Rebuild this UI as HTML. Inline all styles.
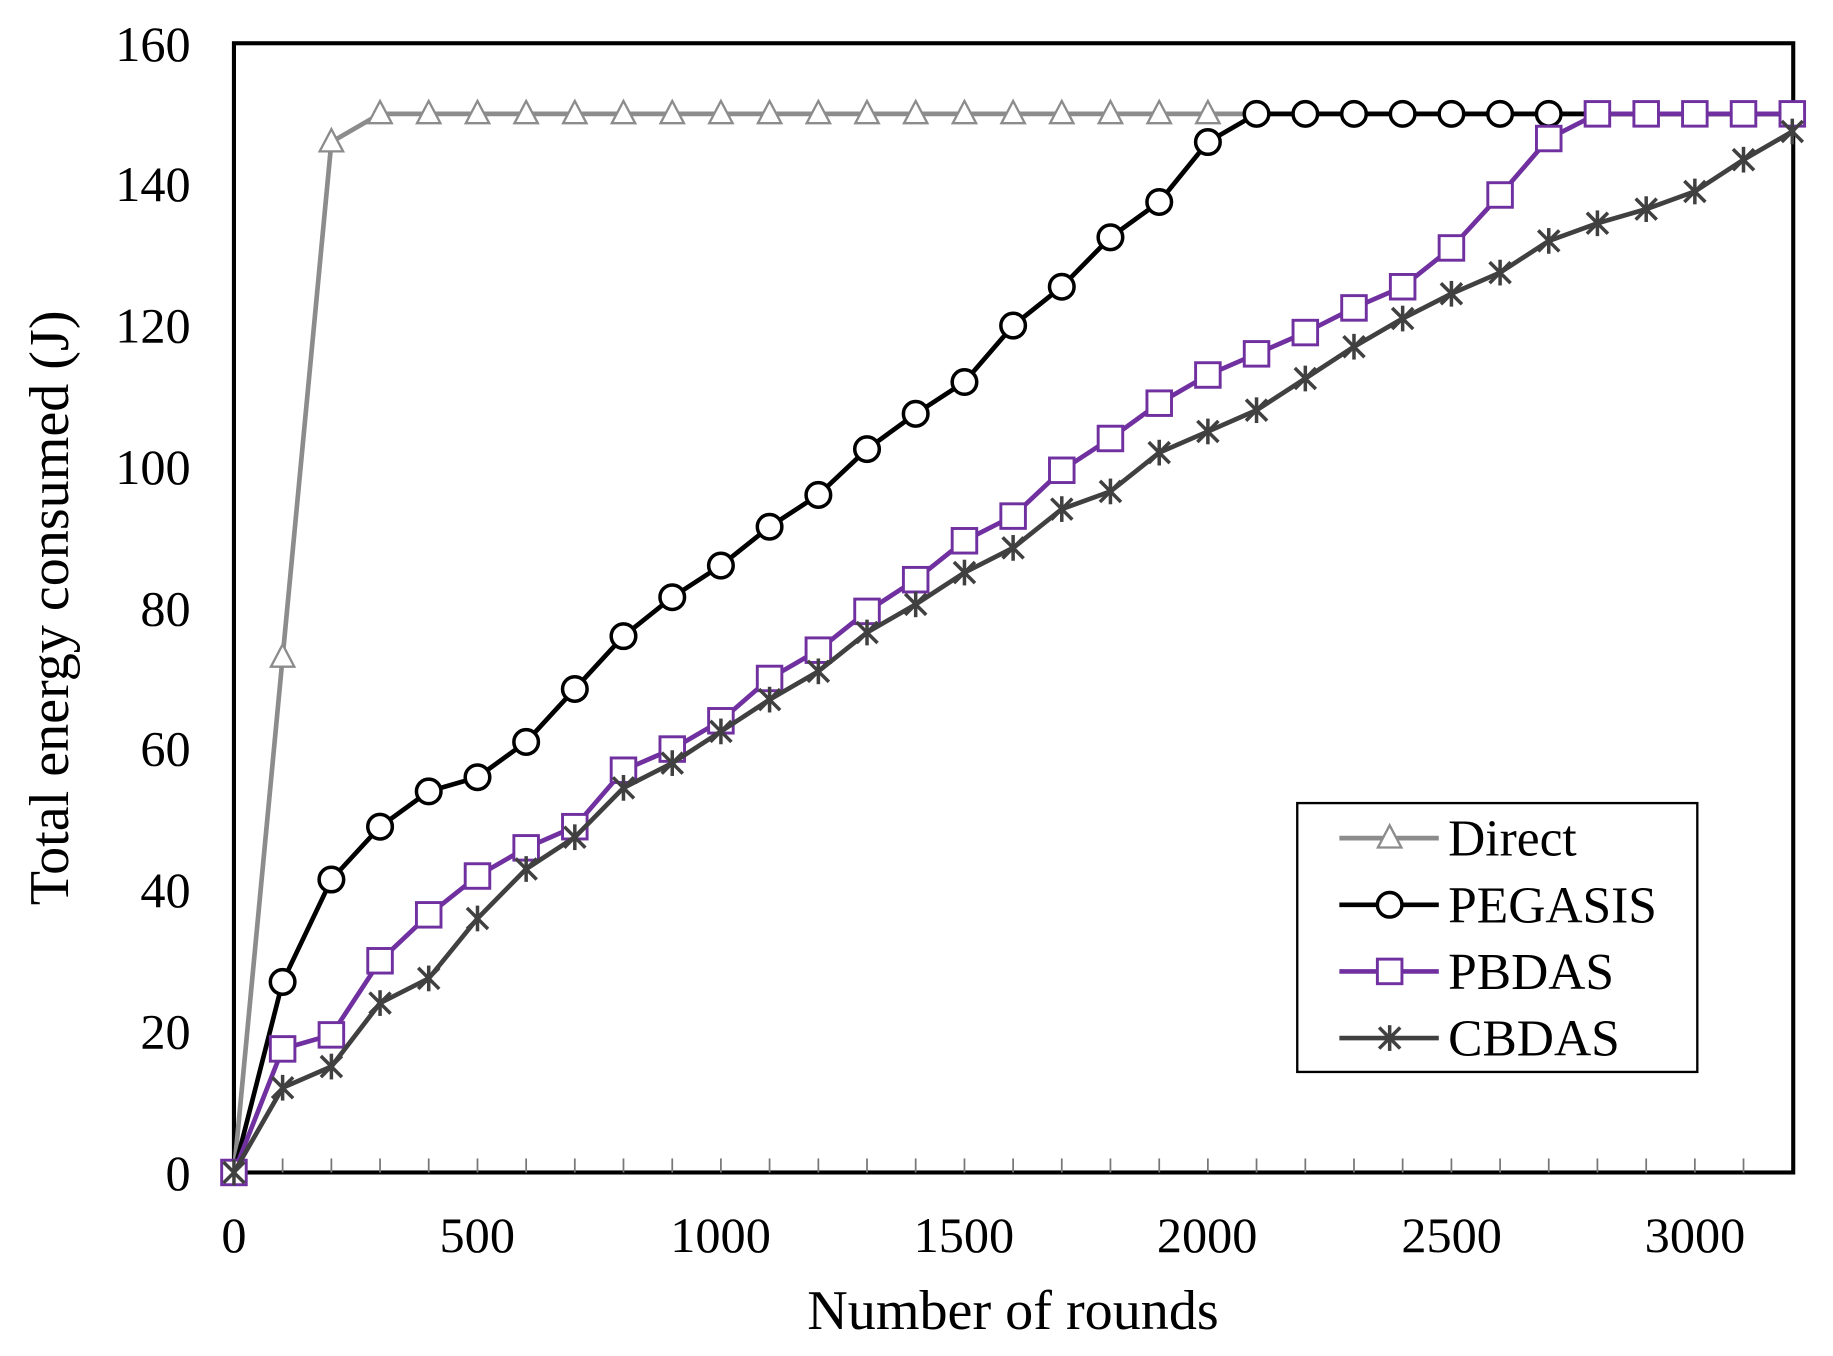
<!DOCTYPE html>
<html><head><meta charset="utf-8"><style>html,body{margin:0;padding:0;background:#fff}svg{display:block}</style></head>
<body>
<svg width="1833" height="1356" viewBox="0 0 1567 1160" preserveAspectRatio="none" xmlns="http://www.w3.org/2000/svg" font-family="Liberation Serif, serif">
<defs>
<g id="tri"><polygon points="0,-11 10,8 -10,8" fill="#fff" stroke="#8c8c8c" stroke-width="2"/></g>
<g id="cir"><circle r="10.5" fill="#fff" stroke="#000" stroke-width="3"/></g>
<g id="sq"><rect x="-10.5" y="-10.5" width="21" height="21" fill="#fff" stroke="#7030a0" stroke-width="2.5"/></g>
<g id="ast" stroke="#404040" stroke-width="3"><line x1="-9" y1="-9" x2="9" y2="9"/><line x1="-9" y1="9" x2="9" y2="-9"/><line x1="0" y1="-11" x2="0" y2="11"/></g>
</defs>
<rect width="1567" height="1160" fill="#fff"/>
<rect x="200" y="37" width="1333" height="966" fill="none" stroke="#000" stroke-width="3.5"/>
<g stroke="#777" stroke-width="1.5">
<line x1="241.6" y1="1003" x2="241.6" y2="991"/><line x1="283.3" y1="1003" x2="283.3" y2="991"/><line x1="324.9" y1="1003" x2="324.9" y2="991"/><line x1="366.5" y1="1003" x2="366.5" y2="991"/><line x1="408.2" y1="1003" x2="408.2" y2="991"/><line x1="449.8" y1="1003" x2="449.8" y2="991"/><line x1="491.4" y1="1003" x2="491.4" y2="991"/><line x1="533" y1="1003" x2="533" y2="991"/><line x1="574.7" y1="1003" x2="574.7" y2="991"/><line x1="616.3" y1="1003" x2="616.3" y2="991"/><line x1="657.9" y1="1003" x2="657.9" y2="991"/><line x1="699.6" y1="1003" x2="699.6" y2="991"/><line x1="741.2" y1="1003" x2="741.2" y2="991"/><line x1="782.8" y1="1003" x2="782.8" y2="991"/><line x1="824.5" y1="1003" x2="824.5" y2="991"/><line x1="866.1" y1="1003" x2="866.1" y2="991"/><line x1="907.7" y1="1003" x2="907.7" y2="991"/><line x1="949.3" y1="1003" x2="949.3" y2="991"/><line x1="991" y1="1003" x2="991" y2="991"/><line x1="1032.6" y1="1003" x2="1032.6" y2="991"/><line x1="1074.2" y1="1003" x2="1074.2" y2="991"/><line x1="1115.9" y1="1003" x2="1115.9" y2="991"/><line x1="1157.5" y1="1003" x2="1157.5" y2="991"/><line x1="1199.1" y1="1003" x2="1199.1" y2="991"/><line x1="1240.8" y1="1003" x2="1240.8" y2="991"/><line x1="1282.4" y1="1003" x2="1282.4" y2="991"/><line x1="1324" y1="1003" x2="1324" y2="991"/><line x1="1365.6" y1="1003" x2="1365.6" y2="991"/><line x1="1407.3" y1="1003" x2="1407.3" y2="991"/><line x1="1448.9" y1="1003" x2="1448.9" y2="991"/><line x1="1490.5" y1="1003" x2="1490.5" y2="991"/>
</g>
<g font-size="43" text-anchor="end" fill="#000">
<text x="163" y="1018">0</text><text x="163" y="897">20</text><text x="163" y="776">40</text><text x="163" y="655">60</text><text x="163" y="535">80</text><text x="163" y="414">100</text><text x="163" y="293">120</text><text x="163" y="172">140</text><text x="163" y="52">160</text>
</g>
<g font-size="43" text-anchor="middle" fill="#000">
<text x="200" y="1071">0</text><text x="408" y="1071">500</text><text x="616" y="1071">1000</text><text x="824" y="1071">1500</text><text x="1032" y="1071">2000</text><text x="1241" y="1071">2500</text><text x="1449" y="1071">3000</text>
</g>
<text x="866" y="1137" font-size="48" text-anchor="middle">Number of rounds</text>
<text transform="translate(58,520) rotate(-90)" font-size="48" text-anchor="middle">Total energy consumed (J)</text>

<polyline fill="none" stroke="#8c8c8c" stroke-width="4" points="200,1003 241.6,562.3 283.3,121.5 324.9,97.4 1532.2,97.4"/>
<g>
<use href="#tri" x="241.6" y="562.3"/><use href="#tri" x="283.3" y="121.5"/><use href="#tri" x="324.9" y="97.4"/><use href="#tri" x="366.5" y="97.4"/><use href="#tri" x="408.2" y="97.4"/><use href="#tri" x="449.8" y="97.4"/><use href="#tri" x="491.4" y="97.4"/><use href="#tri" x="533" y="97.4"/><use href="#tri" x="574.7" y="97.4"/><use href="#tri" x="616.3" y="97.4"/><use href="#tri" x="657.9" y="97.4"/><use href="#tri" x="699.6" y="97.4"/><use href="#tri" x="741.2" y="97.4"/><use href="#tri" x="782.8" y="97.4"/><use href="#tri" x="824.5" y="97.4"/><use href="#tri" x="866.1" y="97.4"/><use href="#tri" x="907.7" y="97.4"/><use href="#tri" x="949.3" y="97.4"/><use href="#tri" x="991" y="97.4"/><use href="#tri" x="1032.6" y="97.4"/>
</g>

<polyline fill="none" stroke="#000" stroke-width="4" stroke-linejoin="round" points="200,1003 241.6,840 283.3,752.4 324.9,707.2 366.5,677 408.2,664.9 449.8,634.7 491.4,589.4 533,544.2 574.7,510.9 616.3,483.8 657.9,450.6 699.6,423.4 741.2,384.2 782.8,354 824.5,326.8 866.1,278.5 907.7,245.3 949.3,203 991,172.8 1032.6,121.5 1074.2,97.4 1532.2,97.4"/>
<g>
<use href="#cir" x="241.6" y="840"/><use href="#cir" x="283.3" y="752.4"/><use href="#cir" x="324.9" y="707.2"/><use href="#cir" x="366.5" y="677"/><use href="#cir" x="408.2" y="664.9"/><use href="#cir" x="449.8" y="634.7"/><use href="#cir" x="491.4" y="589.4"/><use href="#cir" x="533" y="544.2"/><use href="#cir" x="574.7" y="510.9"/><use href="#cir" x="616.3" y="483.8"/><use href="#cir" x="657.9" y="450.6"/><use href="#cir" x="699.6" y="423.4"/><use href="#cir" x="741.2" y="384.2"/><use href="#cir" x="782.8" y="354"/><use href="#cir" x="824.5" y="326.8"/><use href="#cir" x="866.1" y="278.5"/><use href="#cir" x="907.7" y="245.3"/><use href="#cir" x="949.3" y="203"/><use href="#cir" x="991" y="172.8"/><use href="#cir" x="1032.6" y="121.5"/><use href="#cir" x="1074.2" y="97.4"/><use href="#cir" x="1115.9" y="97.4"/><use href="#cir" x="1157.5" y="97.4"/><use href="#cir" x="1199.1" y="97.4"/><use href="#cir" x="1240.8" y="97.4"/><use href="#cir" x="1282.4" y="97.4"/><use href="#cir" x="1324" y="97.4"/>
</g>

<polyline fill="none" stroke="#7030a0" stroke-width="4" stroke-linejoin="round" points="200,1003 241.6,897.3 283.3,885.3 324.9,821.9 366.5,782.6 408.2,749.4 449.8,725.3 491.4,707.2 533,658.9 574.7,640.8 616.3,616.6 657.9,580.4 699.6,556.2 741.2,523 782.8,495.9 824.5,462.6 866.1,441.5 907.7,402.3 949.3,375.1 991,344.9 1032.6,320.8 1074.2,302.7 1115.9,284.5 1157.5,263.4 1199.1,245.3 1240.8,212.1 1282.4,166.8 1324,118.5 1365.6,97.4 1532.2,97.4"/>
<g>
<use href="#sq" x="200" y="1003"/><use href="#sq" x="241.6" y="897.3"/><use href="#sq" x="283.3" y="885.3"/><use href="#sq" x="324.9" y="821.9"/><use href="#sq" x="366.5" y="782.6"/><use href="#sq" x="408.2" y="749.4"/><use href="#sq" x="449.8" y="725.3"/><use href="#sq" x="491.4" y="707.2"/><use href="#sq" x="533" y="658.9"/><use href="#sq" x="574.7" y="640.8"/><use href="#sq" x="616.3" y="616.6"/><use href="#sq" x="657.9" y="580.4"/><use href="#sq" x="699.6" y="556.2"/><use href="#sq" x="741.2" y="523"/><use href="#sq" x="782.8" y="495.9"/><use href="#sq" x="824.5" y="462.6"/><use href="#sq" x="866.1" y="441.5"/><use href="#sq" x="907.7" y="402.3"/><use href="#sq" x="949.3" y="375.1"/><use href="#sq" x="991" y="344.9"/><use href="#sq" x="1032.6" y="320.8"/><use href="#sq" x="1074.2" y="302.7"/><use href="#sq" x="1115.9" y="284.5"/><use href="#sq" x="1157.5" y="263.4"/><use href="#sq" x="1199.1" y="245.3"/><use href="#sq" x="1240.8" y="212.1"/><use href="#sq" x="1282.4" y="166.8"/><use href="#sq" x="1324" y="118.5"/><use href="#sq" x="1365.6" y="97.4"/><use href="#sq" x="1407.3" y="97.4"/><use href="#sq" x="1448.9" y="97.4"/><use href="#sq" x="1490.5" y="97.4"/><use href="#sq" x="1532.2" y="97.4"/>
</g>

<polyline fill="none" stroke="#404040" stroke-width="4" stroke-linejoin="round" points="200,1003 241.6,930.5 283.3,912.4 324.9,858.1 366.5,837 408.2,785.7 449.8,743.4 491.4,716.2 533,674 574.7,652.8 616.3,625.7 657.9,598.5 699.6,574.3 741.2,541.1 782.8,517 824.5,489.8 866.1,468.7 907.7,435.5 949.3,420.4 991,387.2 1032.6,369.1 1074.2,350.9 1115.9,323.8 1157.5,296.6 1199.1,272.5 1240.8,251.3 1282.4,233.2 1324,206.1 1365.6,191 1407.3,178.9 1448.9,163.8 1490.5,136.6 1532.2,112.5"/>
<g>
<use href="#ast" x="200" y="1003"/><use href="#ast" x="241.6" y="930.5"/><use href="#ast" x="283.3" y="912.4"/><use href="#ast" x="324.9" y="858.1"/><use href="#ast" x="366.5" y="837"/><use href="#ast" x="408.2" y="785.7"/><use href="#ast" x="449.8" y="743.4"/><use href="#ast" x="491.4" y="716.2"/><use href="#ast" x="533" y="674"/><use href="#ast" x="574.7" y="652.8"/><use href="#ast" x="616.3" y="625.7"/><use href="#ast" x="657.9" y="598.5"/><use href="#ast" x="699.6" y="574.3"/><use href="#ast" x="741.2" y="541.1"/><use href="#ast" x="782.8" y="517"/><use href="#ast" x="824.5" y="489.8"/><use href="#ast" x="866.1" y="468.7"/><use href="#ast" x="907.7" y="435.5"/><use href="#ast" x="949.3" y="420.4"/><use href="#ast" x="991" y="387.2"/><use href="#ast" x="1032.6" y="369.1"/><use href="#ast" x="1074.2" y="350.9"/><use href="#ast" x="1115.9" y="323.8"/><use href="#ast" x="1157.5" y="296.6"/><use href="#ast" x="1199.1" y="272.5"/><use href="#ast" x="1240.8" y="251.3"/><use href="#ast" x="1282.4" y="233.2"/><use href="#ast" x="1324" y="206.1"/><use href="#ast" x="1365.6" y="191"/><use href="#ast" x="1407.3" y="178.9"/><use href="#ast" x="1448.9" y="163.8"/><use href="#ast" x="1490.5" y="136.6"/><use href="#ast" x="1532.2" y="112.5"/>
</g>

<rect x="1109" y="687" width="342" height="230" fill="#fff" stroke="#000" stroke-width="2"/>
<line x1="1145" y1="717" x2="1230" y2="717" stroke="#8c8c8c" stroke-width="4"/><use href="#tri" x="1188" y="717"/>
<line x1="1145" y1="774" x2="1230" y2="774" stroke="#000" stroke-width="4"/><use href="#cir" x="1188" y="774"/>
<line x1="1145" y1="831" x2="1230" y2="831" stroke="#7030a0" stroke-width="4"/><use href="#sq" x="1188" y="831"/>
<line x1="1145" y1="888" x2="1230" y2="888" stroke="#404040" stroke-width="4"/><use href="#ast" x="1188" y="888"/>
<g font-size="44" fill="#000">
<text x="1238" y="732">Direct</text><text x="1238" y="789">PEGASIS</text><text x="1238" y="846">PBDAS</text><text x="1238" y="903">CBDAS</text>
</g>
</svg>
</body></html>
